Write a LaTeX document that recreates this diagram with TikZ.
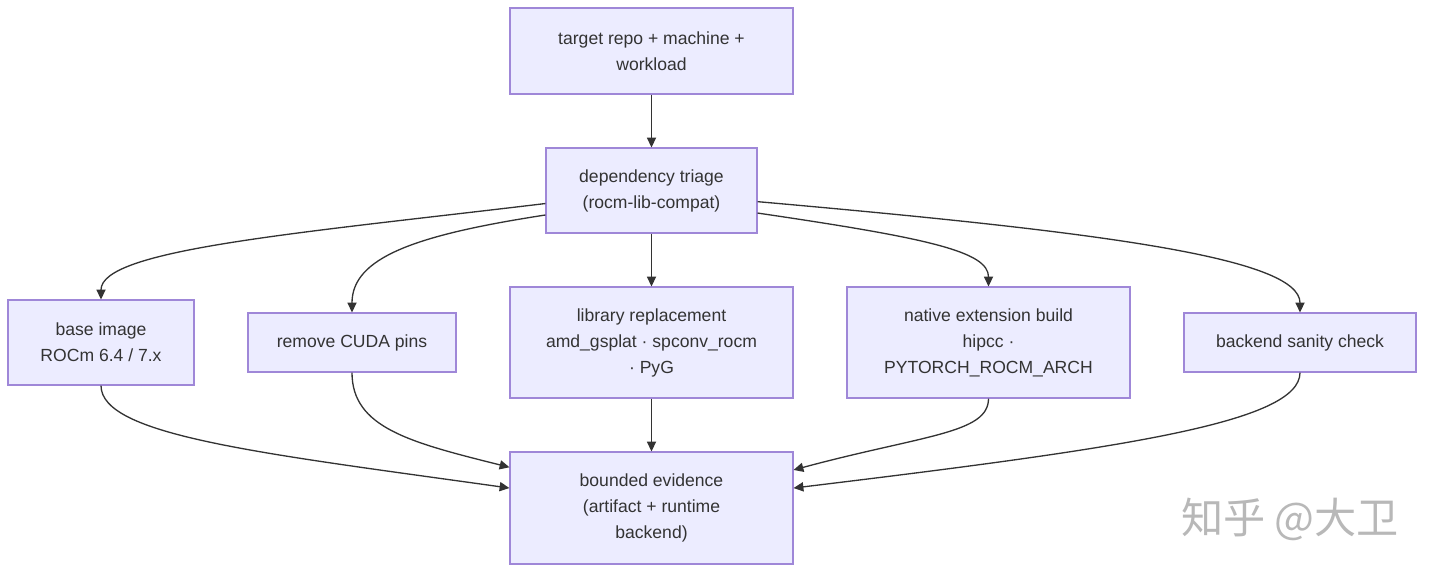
\documentclass[tikz,border=0pt]{standalone}
\usepackage{fontspec}
\setmainfont{Liberation Sans}
\newfontfamily\cjk{Noto Sans CJK SC}
\usepackage{xcolor}
\usepackage{tikz}
\usetikzlibrary{arrows.meta}

\definecolor{boxfill}{HTML}{ECECFF}
\definecolor{boxline}{HTML}{9F87D8}
\definecolor{edgeline}{HTML}{333333}

\begin{document}
\begin{tikzpicture}[
    x=0.02cm, y=-0.02cm,
    box/.style={draw=boxline, fill=boxfill, line width=0.65pt, rectangle, align=center,
                inner sep=0pt, text=edgeline, font=\fontsize{10}{14.8}\selectfont},
    arrow/.style={-{Triangle[length=5.6pt, width=5.2pt]}, draw=edgeline, line width=0.75pt}
]
\useasboundingbox (0,0) rectangle (1440,579);

% ====================== INPUT & TRIAGE ======================
\node[box, minimum width=5.66cm, minimum height=1.72cm] (target) at (651.5, 51)
    {target repo + machine +\\workload};
\node[box, minimum width=4.22cm, minimum height=1.70cm] (triage) at (651.5, 190.5)
    {dependency triage\\(rocm-lib-compat)};

% ====================== PORTING STEPS ======================
\node[box, minimum width=3.72cm, minimum height=1.70cm] (baseimg) at (101, 342.5)
    {base image\\ROCm 6.4 / 7.x};
\node[box, minimum width=4.16cm, minimum height=1.18cm] (cudapins) at (352, 342.5)
    {remove CUDA pins};
\node[box, minimum width=5.66cm, minimum height=2.22cm] (libswap) at (651.5, 342.5)
    {library replacement\\amd\_gsplat · spconv\_rocm\\· PyG};
\node[box, minimum width=5.66cm, minimum height=2.22cm] (nativebuild) at (988.5, 342.5)
    {native extension build\\hipcc ·\\PYTORCH\_ROCM\_ARCH};
\node[box, minimum width=4.64cm, minimum height=1.18cm] (sanity) at (1300, 342.5)
    {backend sanity check};

% ====================== OUTPUT ======================
\node[box, minimum width=5.66cm, minimum height=2.24cm] (evidence) at (651.5, 508)
    {bounded evidence\\(artifact + runtime\\backend)};

% ====================== ARROWS ======================
\draw[arrow] (target) -- (triage);
\draw[arrow] (triage.187) .. controls +(-250,30) and +(0,-50) .. (baseimg.north);
\draw[arrow] (triage.193) .. controls +(-130,20) and +(0,-55) .. (cudapins.north);
\draw[arrow] (triage) -- (libswap);
\draw[arrow] (triage.348) .. controls +(170,25) and +(0,-35) .. (nativebuild.north);
\draw[arrow] (triage.354) .. controls +(340,30) and +(0,-55) .. (sanity.north);

\draw[arrow] (baseimg.south) .. controls +(0,50) and +(-250,-35) .. (evidence.172);
\draw[arrow] (cudapins.south) .. controls +(0,55) and +(-100,-25) .. (evidence.164);
\draw[arrow] (libswap) -- (evidence);
\draw[arrow] (nativebuild.south) .. controls +(0,35) and +(130,-35) .. (evidence.15);
\draw[arrow] (sanity.south) .. controls +(0,50) and +(330,-40) .. (evidence.8);

% ====================== WATERMARK ======================
\node[font=\cjk\fontsize{24}{24}\selectfont, text=black!28] (mark) at (1290, 519) {知乎 @大卫};

\end{tikzpicture}
\end{document}
